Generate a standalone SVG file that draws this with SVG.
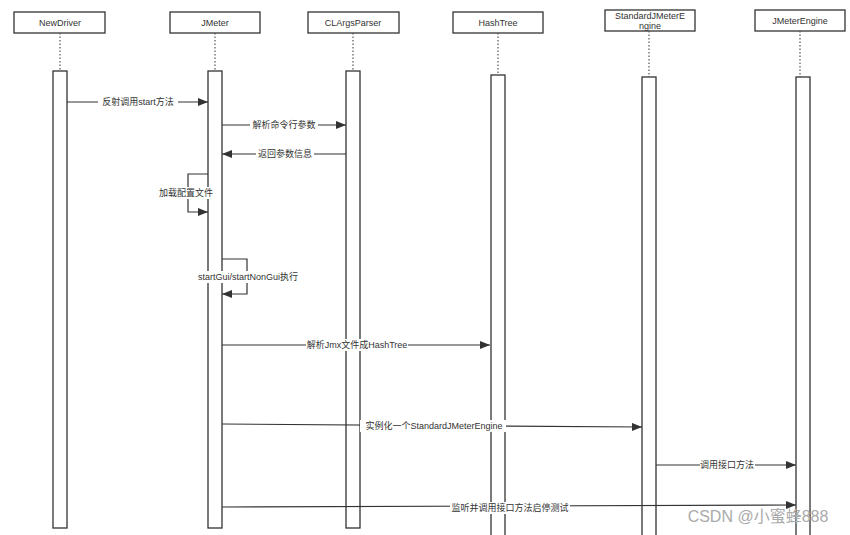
<svg xmlns="http://www.w3.org/2000/svg" width="850" height="535" viewBox="0 0 850 535">
<style>
.box{fill:#fff;stroke:#333;stroke-width:1.3}
.life{stroke:#555;stroke-width:1.2;stroke-dasharray:1.5 2}
.t{font-family:"Liberation Sans","Noto Sans CJK SC",sans-serif;font-size:9px;fill:#333;text-anchor:middle}
.m{stroke:#333;stroke-width:1.2;fill:none}
.lb{font-family:"Liberation Sans","Noto Sans CJK SC",sans-serif;font-size:9px;fill:#333;text-anchor:middle}
</style>
<defs><marker id="a" markerWidth="10" markerHeight="8" refX="10" refY="4" orient="auto" markerUnits="userSpaceOnUse"><path d="M0,0 L10,4 L0,8 z" fill="#333"/></marker></defs>
<rect width="850" height="535" fill="#fff"/>
<g id="NewDriver"><rect class="box" x="14" y="12" width="91" height="21"/><text class="t" x="60" y="26">NewDriver</text><line class="life" x1="60" y1="33" x2="60" y2="71"/><rect class="box" x="53" y="71" width="14" height="457"/></g>
<g id="JMeter"><rect class="box" x="170" y="12" width="90" height="21"/><text class="t" x="215" y="26">JMeter</text><line class="life" x1="215" y1="33" x2="215" y2="71"/><rect class="box" x="208" y="71" width="14" height="457"/></g>
<g id="CLArgsParser"><rect class="box" x="308" y="12" width="91" height="21"/><text class="t" x="353" y="26">CLArgsParser</text><line class="life" x1="353" y1="33" x2="353" y2="71"/><rect class="box" x="346" y="71" width="14" height="457"/></g>
<g id="HashTree"><rect class="box" x="453" y="12" width="90" height="21"/><text class="t" x="498" y="26">HashTree</text><line class="life" x1="498" y1="33" x2="498" y2="75"/><rect class="box" x="491" y="75" width="14" height="465"/></g>
<g id="StandardJMeterEngine"><rect class="box" x="605" y="10" width="90" height="21"/><text class="t" x="650" y="19">StandardJMeterE</text><text class="t" x="650" y="29">ngine</text><line class="life" x1="649" y1="31" x2="649" y2="77"/><rect class="box" x="642" y="77" width="14" height="465"/></g>
<g id="JMeterEngine"><rect class="box" x="755" y="10" width="90" height="21"/><text class="t" x="800" y="24">JMeterEngine</text><line class="life" x1="800" y1="31" x2="800" y2="77"/><rect class="box" x="796" y="77" width="14" height="465"/></g>
<g id="connectors">
<line class="m" x1="67" y1="102" x2="208" y2="102" marker-end="url(#a)"/>
<line class="m" x1="222" y1="125" x2="346" y2="125" marker-end="url(#a)"/>
<line class="m" x1="346" y1="154" x2="222" y2="154" marker-end="url(#a)"/>
<path class="m" d="M208,174 H188 V212 H208" marker-end="url(#a)"/>
<path class="m" d="M222,259 H247 V294 H222" marker-end="url(#a)"/>
<line class="m" x1="222" y1="345" x2="490" y2="345" marker-end="url(#a)"/>
<line class="m" x1="222" y1="424" x2="642" y2="427" marker-end="url(#a)"/>
<line class="m" x1="656" y1="465" x2="796" y2="465" marker-end="url(#a)"/>
<line class="m" x1="222" y1="507" x2="796" y2="505" marker-end="url(#a)"/>
</g>
<g id="labels">
<rect x="98" y="96" width="80" height="12" fill="#fff"/><text class="lb" x="138" y="105">反射调用start方法</text>
<rect x="250" y="119" width="68" height="12" fill="#fff"/><text class="lb" x="284" y="128">解析命令行参数</text>
<rect x="256" y="148" width="58" height="12" fill="#fff"/><text class="lb" x="285" y="157">返回参数信息</text>
<rect x="158" y="187" width="56" height="12" fill="#fff"/><text class="lb" x="186" y="196">加载配置文件</text>
<rect x="190" y="271" width="116" height="12" fill="#fff"/><text class="lb" x="248" y="280">startGui/startNonGui执行</text>
<rect x="306" y="339" width="102" height="12" fill="#fff"/><text class="lb" x="357" y="348">解析Jmx文件成HashTree</text>
<rect x="360" y="420" width="146" height="12" fill="#fff"/><text class="lb" x="434" y="429">实例化一个StandardJMeterEngine</text>
<rect x="700" y="459" width="55" height="12" fill="#fff"/><text class="lb" x="727" y="468">调用接口方法</text>
<rect x="450" y="502" width="120" height="12" fill="#fff"/><text class="lb" x="510" y="511">监听并调用接口方法启停测试</text>
<text x="758" y="522" style="font-family:'Liberation Sans','Noto Sans CJK SC',sans-serif;font-size:16px;fill:#aaa;text-anchor:middle">CSDN @小蜜蜂888</text>
</g>
</svg>
